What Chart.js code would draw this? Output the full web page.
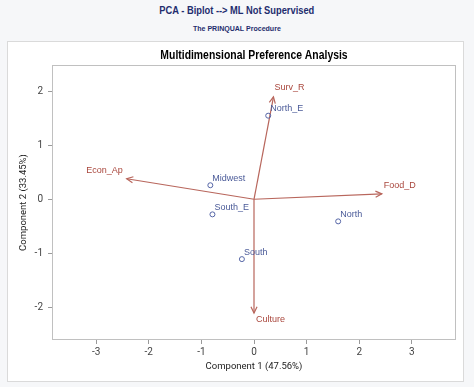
<!DOCTYPE html>
<html><head><meta charset="utf-8">
<script src="https://cdn.jsdelivr.net/npm/chart.js@4/dist/chart.umd.min.js"></script>
<style>
html,body{margin:0;padding:0;width:474px;height:387px;overflow:hidden;background:#f6f7f9;}
#h1{position:absolute;left:0;width:474px;top:4px;text-align:center;font:bold 11.5px "Liberation Sans",Arial,sans-serif;color:#1f2d6e;transform:scaleX(0.81);transform-origin:236px 0;}
#h2{position:absolute;left:0;width:474px;top:24px;text-align:center;font:bold 8px "Liberation Sans",Arial,sans-serif;color:#1f2d6e;transform:scaleX(0.88);transform-origin:236px 0;}
#panel{position:absolute;left:7px;top:41px;width:455px;height:339px;background:#fff;border:1px solid #dadada;}
canvas{position:absolute;left:0;top:0;}
</style></head><body>
<div id="h1">PCA - Biplot --&gt; ML Not Supervised</div>
<div id="h2">The PRINQUAL Procedure</div>
<div id="panel"></div>
<canvas id="c" width="474" height="387"></canvas>
<script>
// ---- data ----
const chartTitle = 'Multidimensional Preference Analysis';
const regions = ['North_E', 'Midwest', 'South_E', 'North', 'South'];
const regionX = [0.27, -0.83, -0.79, 1.60, -0.23];
const regionY = [1.55, 0.26, -0.28, -0.41, -1.11];
const variables = ['Surv_R', 'Econ_Ap', 'Food_D', 'Culture'];
const varX = [0.37, -2.42, 2.43, 0.00];
const varY = [1.90, 0.38, 0.10, -2.11];
const xTicks = [-3, -2, -1, 0, 1, 2, 3];
const yTicks = [-2, -1, 0, 1, 2];
const xTitle = 'Component 1 (47.56%)';
const yTitle = 'Component 2 (33.45%)';

// ---- styles ----
const POINT_COLOR = '#5565a6';
const POINT_LABEL = '#4a5a98';
const VEC_COLOR = '#b8665c';
const VEC_LABEL = '#a9463c';
const LABEL_FONT = '9px "Liberation Sans", Arial, sans-serif';
// label placement per vector: [align, dx, dy]
const vecLabelPos = {
  'Surv_R': ['left', 1, -9],
  'Econ_Ap': ['right', -4, -8],
  'Food_D': ['left', 2, -8],
  'Culture': ['left', 2, 6]
};

const datasets = [{
  type: 'scatter',
  label: 'Regions',
  data: regions.map((r, i) => ({x: regionX[i], y: regionY[i]})),
  pointStyle: 'circle',
  pointRadius: 2.5,
  borderColor: POINT_COLOR,
  backgroundColor: 'rgba(0,0,0,0)',
  borderWidth: 1
}];
variables.forEach((v, i) => {
  datasets.push({
    type: 'line',
    label: v,
    data: [{x: 0, y: 0}, {x: varX[i], y: varY[i]}],
    borderColor: VEC_COLOR,
    borderWidth: 1.2,
    pointRadius: 0,
    fill: false
  });
});

const decor = {
  id: 'decor',
  beforeDraw(chart) {
    const {ctx, chartArea: a} = chart;
    ctx.save();
    ctx.fillStyle = '#000';
    ctx.font = 'bold 13px "Liberation Sans", Arial, sans-serif';
    ctx.textAlign = 'center';
    ctx.textBaseline = 'middle';
    ctx.translate((a.left + a.right) / 2, 55);
    ctx.scale(0.8, 1);
    ctx.fillText(chartTitle, 0, 0);
    ctx.restore();
  },
  afterDatasetsDraw(chart) {
    const {ctx, chartArea: a, scales} = chart;
    const xs = scales.x, ys = scales.y;
    ctx.save();
    // frame
    ctx.strokeStyle = '#c0c0c0';
    ctx.lineWidth = 1;
    ctx.strokeRect(Math.round(a.left) + 0.5, Math.round(a.top) + 0.5,
      Math.round(a.right - a.left) - 1, Math.round(a.bottom - a.top) - 1);
    // arrowheads + vector labels
    const ox = xs.getPixelForValue(0), oy = ys.getPixelForValue(0);
    ctx.strokeStyle = VEC_COLOR;
    ctx.lineWidth = 1.2;
    ctx.font = LABEL_FONT;
    ctx.textBaseline = 'middle';
    variables.forEach((v, i) => {
      const tx = xs.getPixelForValue(varX[i]), ty = ys.getPixelForValue(varY[i]);
      const ang = Math.atan2(ty - oy, tx - ox);
      const L = 7, w = 0.45;
      ctx.beginPath();
      ctx.moveTo(tx - L * Math.cos(ang - w), ty - L * Math.sin(ang - w));
      ctx.lineTo(tx, ty);
      ctx.lineTo(tx - L * Math.cos(ang + w), ty - L * Math.sin(ang + w));
      ctx.stroke();
      const p = vecLabelPos[v];
      ctx.fillStyle = VEC_LABEL;
      ctx.textAlign = p[0];
      ctx.fillText(v, tx + p[1], ty + p[2]);
    });
    // point labels
    ctx.fillStyle = POINT_LABEL;
    ctx.textAlign = 'left';
    regions.forEach((r, i) => {
      const px = xs.getPixelForValue(regionX[i]), py = ys.getPixelForValue(regionY[i]);
      ctx.fillText(r, px + 2, py - 7);
    });
    ctx.restore();
  }
};

const tickFont = {family: 'Roboto, "Liberation Sans", sans-serif', size: 10};
const titleFont = {family: 'Roboto, "Liberation Sans", sans-serif', size: 9.5};

new Chart(document.getElementById('c'), {
  type: 'scatter',
  data: {datasets},
  options: {
    responsive: false,
    animation: false,
    events: [],
    layout: {padding: {top: 65, right: 18, bottom: 0, left: 0}},
    plugins: {legend: {display: false}, tooltip: {enabled: false}, title: {display: false}},
    scales: {
      x: {
        type: 'linear', min: -3.84, max: 3.84,
        afterFit(s) { s.height = 47; },
        afterBuildTicks(s) { s.ticks = xTicks.map(v => ({value: v})); },
        border: {display: false},
        grid: {drawOnChartArea: false, drawTicks: true, tickLength: 4, tickColor: '#9a9a9a'},
        ticks: {font: tickFont, color: '#444', padding: 2, maxRotation: 0},
        title: {display: true, text: xTitle, font: titleFont, color: '#222', padding: {top: 0, bottom: 15}}
      },
      y: {
        type: 'linear', min: -2.61, max: 2.49,
        afterFit(s) { s.width = 52; },
        afterBuildTicks(s) { s.ticks = yTicks.map(v => ({value: v})); },
        border: {display: false},
        grid: {drawOnChartArea: false, drawTicks: true, tickLength: 4, tickColor: '#9a9a9a'},
        ticks: {font: tickFont, color: '#444', padding: 5},
        title: {display: true, text: yTitle, font: titleFont, color: '#222', padding: {top: 18, bottom: 0}}
      }
    }
  },
  plugins: [decor]
});
</script>
</body></html>
